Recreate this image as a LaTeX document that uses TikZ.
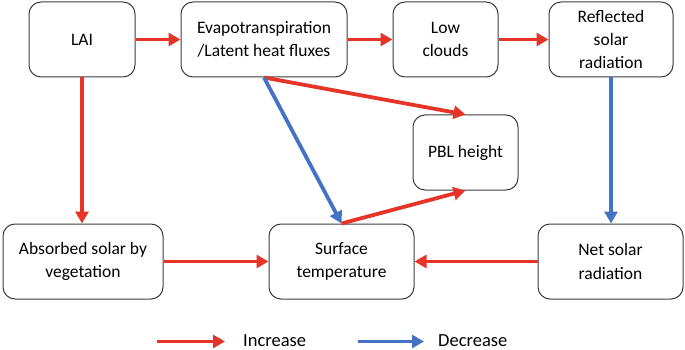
\documentclass[tikz,border=0pt]{standalone}
\usepackage{fontspec}
\setmainfont{Carlito}
\usetikzlibrary{arrows.meta}
\definecolor{incred}{RGB}{230,52,40}
\definecolor{decblue}{RGB}{68,114,196}
\definecolor{boxgray}{RGB}{60,60,60}
\tikzset{
  box/.style={draw=boxgray, line width=1pt, rounded corners=12pt, fill=white,
    align=center, inner sep=2pt, font=\fontsize{17.5}{23.2}\selectfont},
  inc/.style={draw=incred, line width=3.8pt, -{Triangle[length=12pt,width=13pt]}},
  dec/.style={draw=decblue, line width=3.8pt, -{Triangle[length=12pt,width=13pt]}},
  legtext/.style={font=\fontsize{18.5}{22}\selectfont, anchor=base west, inner sep=0pt}
}
\begin{document}
\begin{tikzpicture}[x=1pt,y=-1pt]
\useasboundingbox (0,0) rectangle (685,350);
\node[box, minimum width=106pt, minimum height=75pt] (lai) at (82,39.5) {LAI};
\node[box, minimum width=166pt, minimum height=75pt] (evap) at (264,39.5) {Evapotranspiration\\/Latent heat fluxes};
\node[box, minimum width=105pt, minimum height=75pt] (low) at (445.5,39.5) {Low\\clouds};
\node[box, minimum width=124pt, minimum height=75pt] (refl) at (611,39.5) {Reflected\\solar\\radiation};
\node[box, minimum width=105pt, minimum height=75pt] (pbl) at (465.5,152.5) {PBL height};
\node[box, minimum width=160pt, minimum height=75pt] (abs) at (83,261.5) {Absorbed solar by\\vegetation};
\node[box, minimum width=145pt, minimum height=75pt] (surf) at (341.5,261.5) {Surface\\temperature};
\node[box, minimum width=145pt, minimum height=75pt] (net) at (610.5,261.5) {Net solar\\radiation};

\draw[inc] (lai.east) -- (evap.west);
\draw[inc] (evap.east) -- (low.west);
\draw[inc] (low.east) -- (refl.west);
\draw[inc] (lai.south) -- (lai.south |- abs.north);
\draw[dec] (refl.south) -- (refl.south |- net.north);
\draw[inc] (abs.east) -- (surf.west);
\draw[inc] (net.west) -- (surf.east);
\draw[inc] (evap.south) -- (pbl.north);
\draw[dec] (evap.south) -- (surf.north);
\draw[inc] (surf.north) -- (pbl.south);

\coordinate (l1a) at (157,341.5);
\coordinate (l1b) at (225,341.5);
\coordinate (l2a) at (358,341.5);
\coordinate (l2b) at (424,341.5);
\draw[inc] (l1a) -- (l1b);
\draw[dec] (l2a) -- (l2b);
\node[legtext] (tinc) at (243,346) {Increase};
\node[legtext] (tdec) at (438,346) {Decrease};
\end{tikzpicture}
\end{document}
